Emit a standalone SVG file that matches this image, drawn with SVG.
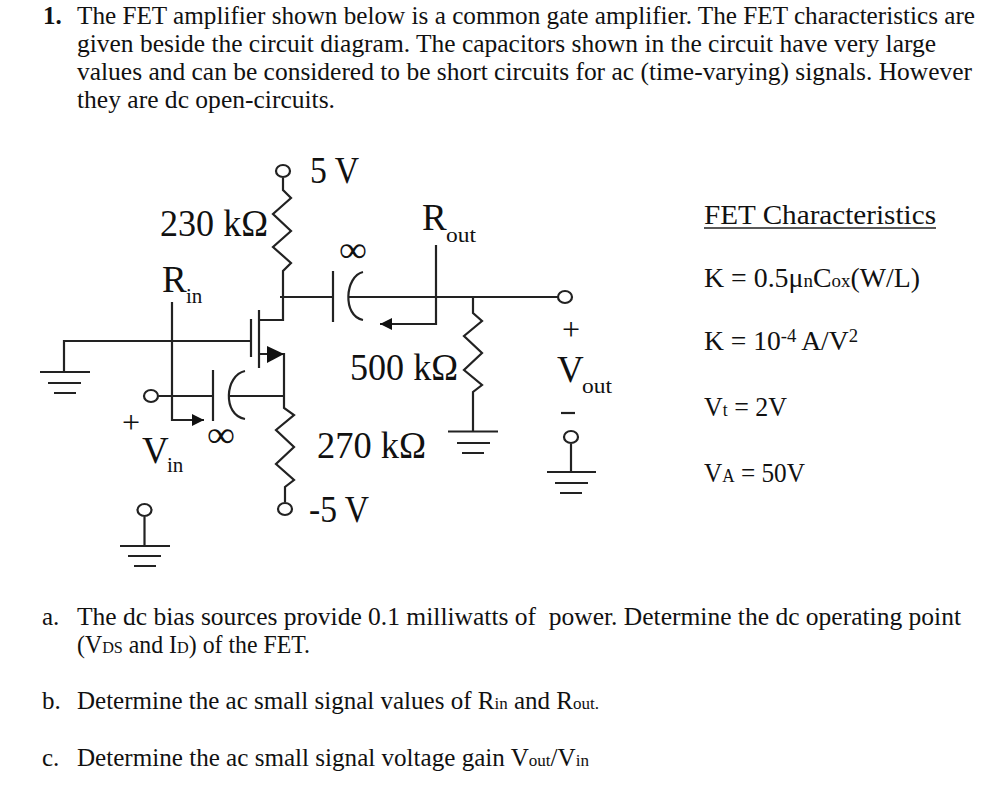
<svg xmlns="http://www.w3.org/2000/svg" width="988" height="786" viewBox="0 0 988 786">
<defs>
<marker id="arrow" markerUnits="userSpaceOnUse" markerWidth="14" markerHeight="12" refX="12" refY="6" orient="auto"><path d="M0 0L12 6L0 12Z" fill="#111"/></marker>
</defs>
<style>
text{font-family:"Liberation Serif","Times New Roman",serif;fill:#111}
.p{font-size:25px}
.l{font-size:37px}
.s{font-size:21px}
.f{font-size:28px}
.plus{font-size:32px}
.f2{font-size:19px}
.q{font-size:17px}
.w{fill:none;stroke:#222;stroke-width:2.2;stroke-linejoin:miter}
.t{fill:#fff;stroke:#222;stroke-width:2.2}
</style>
<rect width="988" height="786" fill="#fff"/>
<g id="problem">
<text class="p" x="43" y="24" font-weight="bold">1.</text>
<text class="p" x="77" y="24" textLength="898" lengthAdjust="spacingAndGlyphs">The FET amplifier shown below is a common gate amplifier. The FET characteristics are</text>
<text class="p" x="77" y="52" textLength="859" lengthAdjust="spacingAndGlyphs">given beside the circuit diagram. The capacitors shown in the circuit have very large</text>
<text class="p" x="77" y="80" textLength="895" lengthAdjust="spacingAndGlyphs">values and can be considered to be short circuits for ac (time-varying) signals. However</text>
<text class="p" x="77" y="108" textLength="258" lengthAdjust="spacingAndGlyphs">they are dc open-circuits.</text>
</g>
<g id="connectors">
<path class="w" d="M283 178V190L291 198L273 214L291 231L273 247L291 263L283 271V320H259"/>
<path class="w" d="M259 310V368"/>
<path class="w" d="M251 319V357"/>
<path class="w" d="M64 372V341H251"/>
<path class="w" d="M280 297H333"/>
<path class="w" d="M333 271V322"/>
<path class="w" d="M363 272C345 276 342 316 363 320"/>
<path class="w" d="M349 297H558"/>
<path class="w" d="M473 297V313L482 321L464 336L482 353L464 370L482 385L473 392V431"/>
<path class="w" d="M436 245V324H380" marker-end="url(#arrow)"/>
<path class="w" d="M172 302V420H204" marker-end="url(#arrow)"/>
<path class="w" d="M159 396H213"/>
<path class="w" d="M213 370V421"/>
<path class="w" d="M245 371C225 375 222 415 245 419"/>
<path class="w" d="M229 396H285"/>
<path class="w" d="M259 354H284V408L294 415L276 430L294 447L276 464L294 480L285 487V502"/>
<path d="M267 346L284 354L267 363Z" fill="#111"/>
<path class="w" d="M144.500 517V546"/>
<path class="w" d="M571 444V472"/>
</g>
<g id="ground-gate"><path class="w" d="M40 372H90M48 383H81M54 393H76"/></g>
<g id="ground-vin"><path class="w" d="M120 546H170M128 556H161M134 566H156"/></g>
<g id="ground-drain"><path class="w" d="M448 431.500H498M457 443H490M462 453H484"/></g>
<g id="ground-vout"><path class="w" d="M547 472H596M555 483H588M560 493H582"/></g>
<g id="terminal-vdd"><ellipse class="t" cx="283" cy="171" rx="7" ry="6"/></g>
<g id="terminal-vss"><ellipse class="t" cx="285" cy="509" rx="7" ry="6"/></g>
<g id="terminal-vin"><ellipse class="t" cx="151" cy="396" rx="7" ry="6"/></g>
<g id="terminal-vin-gnd"><ellipse class="t" cx="144.500" cy="510" rx="7" ry="6"/></g>
<g id="terminal-vout"><ellipse class="t" cx="565" cy="297" rx="7" ry="6"/></g>
<g id="terminal-vout-gnd"><ellipse class="t" cx="571" cy="437" rx="7" ry="6"/></g>
<g id="labels">
<text class="l" x="310" y="183" textLength="49" lengthAdjust="spacingAndGlyphs">5 V</text>
<text class="l" x="160" y="236" textLength="108" lengthAdjust="spacingAndGlyphs">230 kΩ</text>
<text class="l" x="162" y="292">R</text><text class="s" x="186" y="303">in</text>
<text class="l" x="422" y="230">R</text><text class="s" x="446" y="242" textLength="30" lengthAdjust="spacingAndGlyphs">out</text>
<text class="l" x="339" y="262" textLength="28" lengthAdjust="spacingAndGlyphs">∞</text>
<text class="l" x="207" y="447" textLength="28" lengthAdjust="spacingAndGlyphs">∞</text>
<text class="l" x="350" y="380" textLength="108" lengthAdjust="spacingAndGlyphs">500 kΩ</text>
<text class="l" x="317" y="458" textLength="109" lengthAdjust="spacingAndGlyphs">270 kΩ</text>
<text class="l" x="309" y="522" textLength="60" lengthAdjust="spacingAndGlyphs">-5 V</text>
<text class="plus" x="122" y="433">+</text>
<text class="l" x="142" y="463">V</text><text class="s" x="167" y="472">in</text>
<text class="plus" x="562" y="340">+</text>
<text class="l" x="557" y="382">V</text><text class="s" x="582" y="393" textLength="30" lengthAdjust="spacingAndGlyphs">out</text>
<path class="w" d="M561 413H575"/>
</g>
<g id="fet-characteristics">
<text class="f" x="704" y="224" textLength="232" lengthAdjust="spacingAndGlyphs">FET Characteristics</text>
<path d="M704 228H936" stroke="#222" stroke-width="1.500"/>
<text class="f" x="704" y="287" textLength="216" lengthAdjust="spacingAndGlyphs">K = 0.5μ<tspan class="f2">n</tspan>C<tspan class="f2">ox</tspan>(W/L)</text>
<text class="f" x="704" y="350" textLength="154" lengthAdjust="spacingAndGlyphs">K = 10<tspan class="f2" dy="-8">-4 </tspan><tspan dy="8">A/V</tspan><tspan class="f2" dy="-8">2</tspan></text>
<text class="f" x="704" y="416" textLength="83" lengthAdjust="spacingAndGlyphs">V<tspan class="f2">t</tspan> = 2V</text>
<text class="f" x="704" y="482" textLength="101" lengthAdjust="spacingAndGlyphs">V<tspan class="f2">A</tspan> = 50V</text>
</g>
<g id="questions">
<text class="p" x="42" y="625">a.</text>
<text class="p" x="77" y="625" textLength="884" lengthAdjust="spacingAndGlyphs">The dc bias sources provide 0.1 milliwatts of&#160; power. Determine the dc operating point</text>
<text class="p" x="77" y="653" textLength="233" lengthAdjust="spacingAndGlyphs">(V<tspan class="q">DS</tspan> and I<tspan class="q">D</tspan>) of the FET.</text>
<text class="p" x="42" y="709">b.</text>
<text class="p" x="77" y="709" textLength="522" lengthAdjust="spacingAndGlyphs">Determine the ac small signal values of R<tspan class="q">in</tspan> and R<tspan class="q">out.</tspan></text>
<text class="p" x="42" y="766">c.</text>
<text class="p" x="77" y="766" textLength="512" lengthAdjust="spacingAndGlyphs">Determine the ac small signal voltage gain V<tspan class="q">out</tspan>/V<tspan class="q">in</tspan></text>
</g>
</svg>
